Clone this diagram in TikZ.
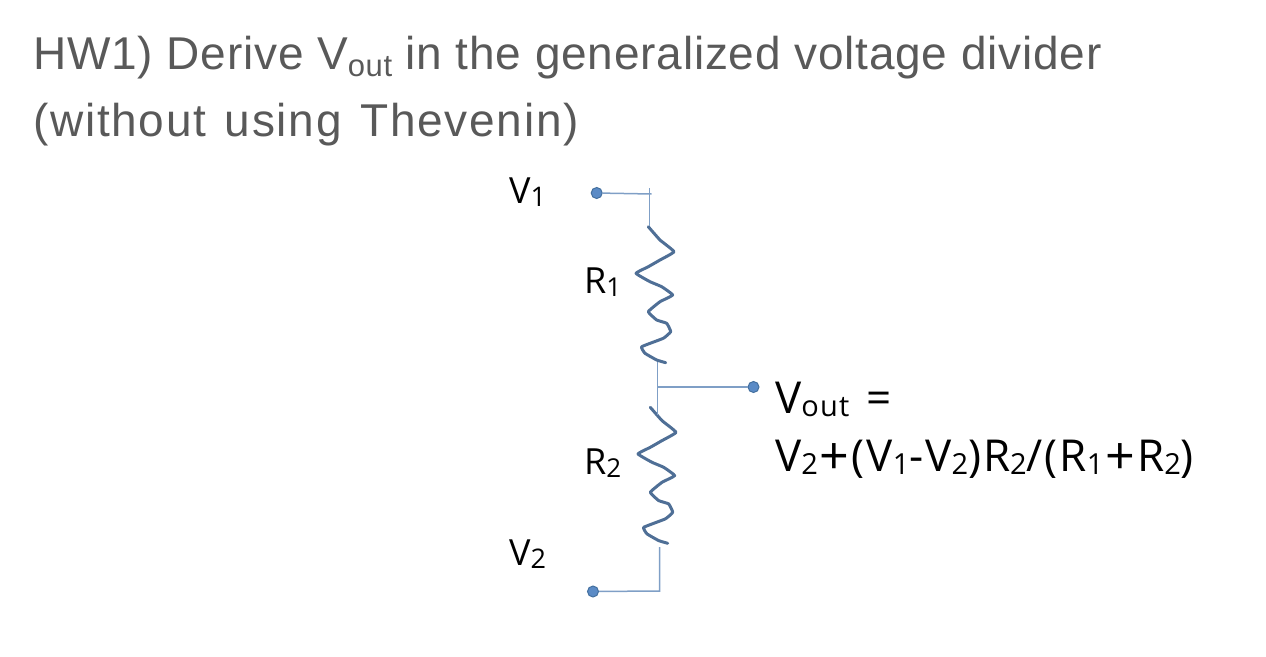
\documentclass[tikz,border=0pt]{standalone}
\usepackage{fontspec}
\setmainfont{Open Sans}
\newfontfamily\formulafont[LetterSpace=4.2]{Open Sans}
\newfontfamily\titlefont[LetterSpace=1.75]{Liberation Sans}
\newfontfamily\titlewidefont[LetterSpace=3.7,WordSpace=1.3]{Liberation Sans}
\usetikzlibrary{positioning}
\definecolor{wireblue}{HTML}{7F9FC6}
\definecolor{coilblue}{HTML}{4F6F96}
\definecolor{dotblue}{HTML}{5B8BC6}
\definecolor{dotedge}{HTML}{44709F}
\definecolor{titlegray}{HTML}{595959}
\newcommand{\lowtext}[2]{{\fontsize{#1}{#1}\selectfont\raisebox{-0.13em}{#2}}}
\newcommand{\wideplus}{\hspace{2pt}\raisebox{-0.09em}{\fontsize{52}{52}\selectfont+}\hspace{2pt}}
% zigzag of one resistor
\newcommand{\coilpath}{(648.3,226.7) (660,240) (674,251.7) (660,260) (648.3,266.7) (636,273.3) (650,281.7) (661.7,286.7) (672.7,295) (660,301.7) (648.3,311.7) (656.7,320) (666.7,323.3) (670.7,331.7) (663.3,338.3) (641.7,346.7) (645,353.3) (656.7,360) (665.7,362.7)}
\tikzset{
	wire/.style = {wireblue, line width=1.5pt},
	coil/.style = {coilblue, line width=3pt, line join=round, line cap=round},
	terminal/.style = {circle, fill=dotblue, draw=dotedge, line width=1pt, inner sep=0pt, minimum size=11pt},
	title/.style = {anchor=base west, inner sep=0pt, text=titlegray, font=\titlefont\fontsize{46}{46}\selectfont},
	widetitle/.style = {title, font=\titlewidefont\fontsize{46}{46}\selectfont},
	label/.style = {anchor=base west, inner sep=0pt, font=\fontsize{36}{36}\selectfont},
	formula/.style = {anchor=base west, inner sep=0pt, font=\formulafont\fontsize{44}{44}\selectfont}
}
\begin{document}
\begin{tikzpicture}[x=1pt, y=-1pt]
	\useasboundingbox (0,0) rectangle (1266,656);

	% title
	\node[title] (line1) at (33,69) {HW1) Derive V{\fontsize{31}{31}\selectfont\raisebox{-0.25em}{out}} in the generalized voltage divider};
	\node[widetitle] (line2) at (33,136) {(without using Thevenin)};

	% resistors
	\draw[coil] plot[smooth, tension=0.2] coordinates {\coilpath};
	\draw[coil, shift={(2,180.6)}] plot[smooth, tension=0.2] coordinates {\coilpath};

	% terminals
	\node[terminal] (v1) at (596.7,193) {};
	\node[terminal] (vout) at (753.5,387) {};
	\node[terminal] (v2) at (593,591.5) {};

	% wires
	\coordinate (r1top) at (649.5,226);
	\coordinate (r1tick) at (649.5,188);
	\coordinate (r1corner) at (651.5,194);
	\coordinate (r1bottom) at (657.3,362);
	\coordinate (r2top) at (657.3,415);
	\coordinate (midpoint) at (657.3,387);
	\coordinate (r2bottom) at (659.5,547);
	\coordinate (r2corner) at (659.5,591);
	\draw[wire] (v1) -- (r1corner);
	\draw[wire] (r1tick) -- (r1top);
	\draw[wire] (r1bottom) -- (r2top);
	\draw[wire] (midpoint) -- (vout);
	\draw[wire] (r2bottom) -- (r2corner) -- (v2);

	% labels
	\node[label] (v1label) at (509,203) {V\lowtext{27}{1}};
	\node[label] (r1label) at (584,293) {R\lowtext{26}{1}};
	\node[label] (r2label) at (584,474) {R\lowtext{26}{2}};
	\node[label] (v2label) at (509,565) {V\lowtext{27}{2}};

	% result
	\node[formula] (voutlabel) at (775,413) {V\lowtext{29}{out}\hspace{0.4em}=};
	\node[formula] (result) at (775,471) {V\lowtext{29}{2}\wideplus(V\lowtext{29}{1}-V\lowtext{29}{2})R\lowtext{29}{2}/(R\lowtext{29}{1}\wideplus R\lowtext{29}{2})};
\end{tikzpicture}
\end{document}
